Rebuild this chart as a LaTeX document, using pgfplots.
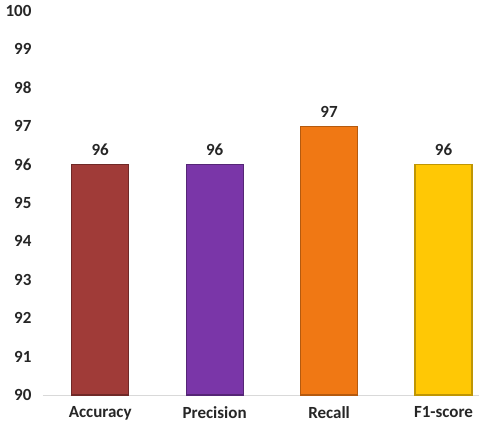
\documentclass[border=0pt]{standalone}
\usepackage{pgfplots}
\pgfplotsset{compat=1.18}
\usepackage{fontspec}
\setmainfont{Carlito}

\definecolor{accc}{HTML}{A03B38}
\definecolor{prec}{HTML}{7A36A8}
\definecolor{recc}{HTML}{F07814}
\definecolor{f1c}{HTML}{FFC805}
\definecolor{gridc}{HTML}{D9D9D9}

\begin{document}
\begin{tikzpicture}
\path[use as bounding box] (-43pt,-36pt) rectangle (436pt,395pt);
\begin{axis}[%
width=436pt,
height=384pt,
at={(0pt,0pt)},
scale only axis,
ybar,
bar width=57pt,
bar shift=0pt,
xmin=-0.5,
xmax=3.31,
ymin=90,
ymax=100,
ytick={90,91,...,100},
xtick={0,1,2,3},
xticklabels={{Accuracy},{Precision},{Recall},{F1-score}},
axis lines*=left,
y axis line style={draw=none},
x axis line style={draw=gridc, line width=0.8pt, -},
major tick length=0pt,
/pgf/number format/assume math mode=true,
ticklabel style={font=\fontsize{17}{20}\selectfont\bfseries, text=black!85},
yticklabel style={xshift=-8pt},
xticklabel style={yshift=-8pt},
nodes near coords,
every node near coord/.append style={font=\fontsize{17}{20}\selectfont\bfseries, text=black!85, yshift=5pt},
]
\addplot[draw=accc!70!black, fill=accc, line width=1.3pt] coordinates {(0,96)};
\addplot[draw=prec!70!black, fill=prec, line width=1.3pt] coordinates {(1,96)};
\addplot[draw=recc!75!black, fill=recc, line width=1.3pt] coordinates {(2,97)};
\addplot[draw=f1c!75!black, fill=f1c, line width=1.3pt] coordinates {(3,96)};
\end{axis}
\end{tikzpicture}
\end{document}
